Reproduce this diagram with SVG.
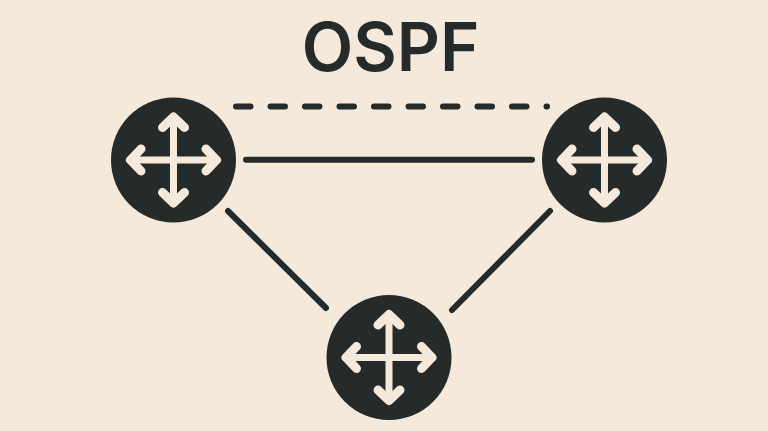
<svg xmlns="http://www.w3.org/2000/svg" width="768" height="431" viewBox="0 0 768 431">
<style>
.bg{fill:#f5e9dc}
.disc{fill:#252b2a}
.shaft{fill:none;stroke:#f5e9dc;stroke-width:7;stroke-linecap:round}
.head{fill:none;stroke:#f5e9dc;stroke-width:9;stroke-linecap:round;stroke-linejoin:round}
.link{fill:none;stroke:#252b2a;stroke-width:6;stroke-linecap:round}
.title{font-family:Inter,"Liberation Sans",sans-serif;font-weight:600;font-size:67px;fill:#252b2a;text-anchor:middle}
</style>
<defs>
<g id="router">
<circle class="disc" r="62.500"/>
<path class="shaft" d="M0-43V43M-43 0H43"/>
<path class="head" d="M-11-32.500L0-43L11-32.500M-11 32.500L0 43L11 32.500M-32.500-11L-43 0L-32.500 11M32.500-11L43 0L32.500 11"/>
</g>
</defs>
<rect class="bg" width="768" height="431"/>
<text id="title" class="title" x="390.500" y="70.500">OSPF</text>
<g id="connectors">
<path class="link" d="M236 106.500H547" stroke-dasharray="14.500 20"/>
<path class="link" d="M246 159.700H532"/>
<path class="link" d="M228 211L326 308"/>
<path class="link" d="M550 211L452 310"/>
</g>
<g id="router-left"><use href="#router" x="173.500" y="160"/></g>
<g id="router-right"><use href="#router" x="604.500" y="160"/></g>
<g id="router-bottom"><use href="#router" x="389" y="357.500"/></g>
</svg>
